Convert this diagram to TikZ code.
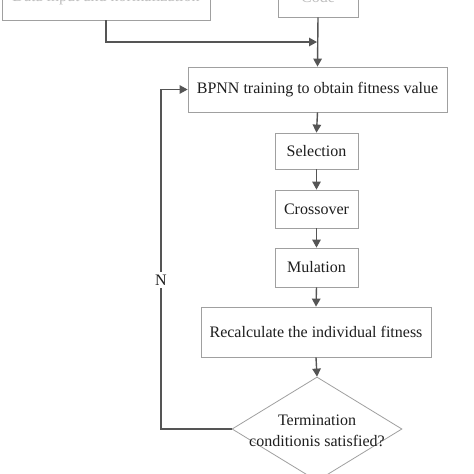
\documentclass[tikz,border=0pt]{standalone}
\usepackage{fontspec}
\setmainfont{Liberation Serif}
\usetikzlibrary{shapes.geometric,arrows.meta}
\definecolor{boxgray}{HTML}{A0A0A0}
\definecolor{arrgray}{HTML}{555555}
\definecolor{txtgray}{HTML}{1E1E1E}
\definecolor{fadegray}{HTML}{BEBEBE}
\tikzset{
  procbox/.style={draw=boxgray, line width=0.8pt, fill=white, inner sep=0pt,
    font=\fontsize{16}{20}\selectfont, text=txtgray},
  fadebox/.style={procbox, text=fadegray},
  flowarrow/.style={draw=arrgray, line width=1.4pt, -{Triangle[length=8pt,width=8.5pt]}},
  decbox/.style={diamond, draw=boxgray, line width=0.8pt, inner sep=0pt},
  labeltext/.style={font=\fontsize{16}{21}\selectfont, text=txtgray, align=center, inner sep=1pt}
}
\begin{document}
\begin{tikzpicture}[x=1pt,y=-1pt]
\useasboundingbox (0,0) rectangle (474,474);
\clip (0,0) rectangle (474,474);
\fill[white] (0,0) rectangle (474,474);
% top boxes (cut off at the top edge)
\node[fadebox, minimum width=208pt, minimum height=45pt] (data) at (106,-2.5) {Data input and normalization};
\node[fadebox, minimum width=80pt, minimum height=39pt] (code) at (318,-2.5) {Code};
% main boxes
\node[procbox, minimum width=259pt, minimum height=45pt] (bpnn) at (317.5,89.5) {BPNN training to obtain fitness value};
\node[procbox, minimum width=83pt, minimum height=36pt] (sel) at (316.5,151) {Selection};
\node[procbox, minimum width=83pt, minimum height=38pt] (cro) at (316.5,209) {Crossover};
\node[procbox, minimum width=83pt, minimum height=39pt] (mul) at (316.5,267.5) {Mulation};
\node[procbox, minimum width=230pt, minimum height=50pt] (rec) at (316,332) {Recalculate the individual fitness};
\node[decbox, minimum width=170pt, minimum height=104pt] (dec) at (317,429) {};
\node[labeltext] (dectext) at (317,431) {Termination\\conditionis satisfied?};
% connectors
\coordinate (merge) at (317,42);
\draw[flowarrow] (data.south) |- (merge);
\draw[flowarrow] (code.south) -- (bpnn.north);
\draw[flowarrow] (bpnn.south) -- (sel.north);
\draw[flowarrow] (sel.south) -- (cro.north);
\draw[flowarrow] (cro.south) -- (mul.north);
\draw[flowarrow] (mul.south) -- (rec.north);
\draw[flowarrow] (rec.south) -- (dec.north);
\coordinate (loopbot) at (161,429);
\coordinate (looptop) at (161,89.5);
\draw[flowarrow] (dec.west) -- (loopbot) -- (looptop) -- (bpnn.west);
\node[labeltext, fill=white, inner sep=3pt] (nlabel) at (161,280) {N};
\end{tikzpicture}
\end{document}
